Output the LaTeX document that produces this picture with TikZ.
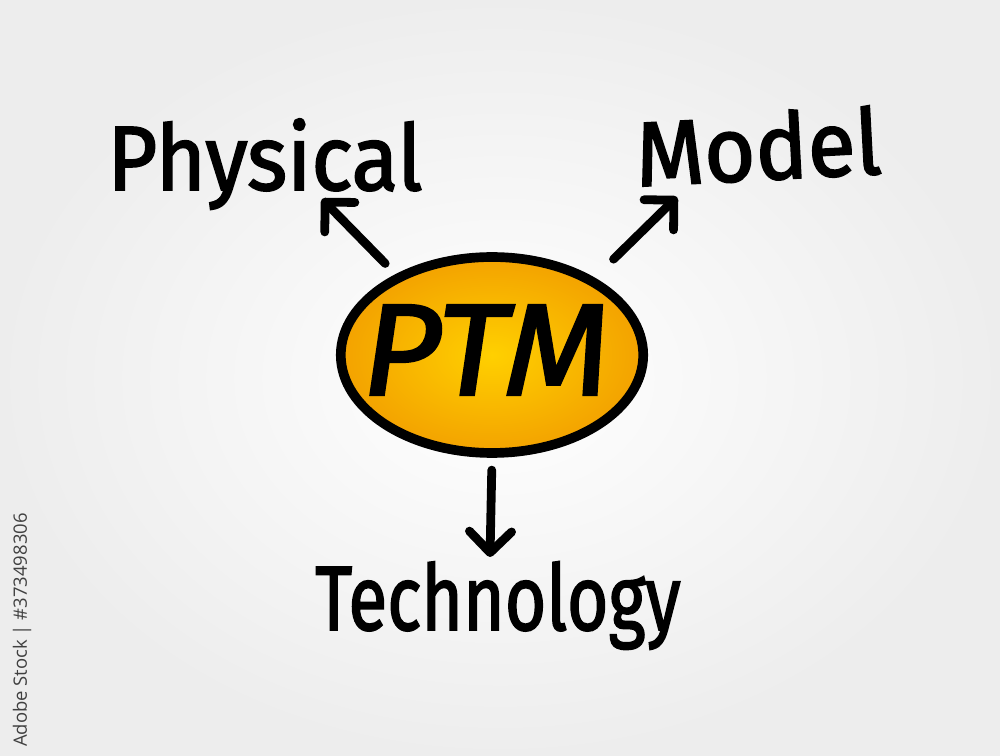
\documentclass[tikz,border=0pt]{standalone}
\usepackage{fontspec}
\setmainfont{Fira Sans}
\setsansfont{Open Sans}
\newfontfamily\markerfont[FakeBold=2]{Fira Sans}
\usetikzlibrary{shapes.geometric,arrows.meta}
\definecolor{ptmyellow}{HTML}{FFD000}
\definecolor{ptmorange}{HTML}{F3A200}
\tikzset{
  pen/.style={line width=5pt, line cap=round, line join=round,
    -{Straight Barb[round,length=12pt,width=24pt]}},
  word/.style={anchor=base, inner sep=0pt, font=\fontsize{52}{60}\markerfont},
}
\begin{document}
\begin{tikzpicture}[x=0.02cm,y=-0.02cm]
\useasboundingbox (0,0) rectangle (1000,756);
\shade[inner color=white, outer color=black!7] (0,0) rectangle (1000,756);
\node[ellipse, draw, line width=5.5pt, inner sep=0pt, minimum width=6.05cm, minimum height=3.92cm,
  shading=radial, inner color=ptmyellow, outer color=ptmorange] (ptm) at (492,355) {};
\node[font=\fontsize{74}{80}\markerfont\itshape] (ptmText) at (486,350) {\scalebox{1.05}[1]{PTM}};
\node[word] (physical) at (265,190) {\scalebox{0.94}[1]{Physical}};
\node[word, rotate=3] (model) at (760,180) {\scalebox{0.96}[1]{Model}};
\node[word] (technology) at (498,630) {\scalebox{0.78}[1]{Technology}};
\coordinate (physicalTip) at (322,199);
\coordinate (modelTip) at (677,197);
\coordinate (technologyTip) at (490,557);
\draw[pen, shorten <=8.5pt] (ptm.140) -- (physicalTip);
\draw[pen, shorten <=15pt] (ptm.37) -- (modelTip);
\draw[pen, shorten <=7pt] (ptm.south) -- (technologyTip);
\node[rotate=90, font=\sffamily\fontsize{10.5}{12}\selectfont, text=black!75] (stock) at (22,630) {Adobe Stock | \#373498306};
\end{tikzpicture}
\end{document}
